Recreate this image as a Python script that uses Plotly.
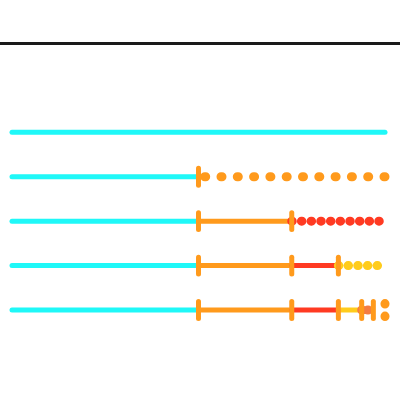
import plotly.graph_objects as go

# pieces of the unit bar, one row per step of the halving
seg_row = [1, 2, 2, 3, 3, 3, 4, 4, 4, 4, 5, 5, 5, 5, 5]
seg_start = [0, 0, 0.5, 0, 0.5, 0.75, 0, 0.5, 0.75, 0.875, 0, 0.5, 0.75, 0.875, 0.9375]
seg_end = [1, 0.5, 1, 0.5, 0.75, 1, 0.5, 0.75, 0.875, 1, 0.5, 0.75, 0.875, 0.9375, 0.96875]

# cut marks
tick_row = [2, 3, 3, 4, 4, 4, 5, 5, 5, 5, 5]
tick_x = [0.5, 0.5, 0.75, 0.5, 0.75, 0.875, 0.5, 0.75, 0.875, 0.9375, 0.96875]

# dotted end mark on the last row
end_row = [5]
end_x = [1]

rule_y = -1

colors = ['#1ff8f8', '#ff9a1c', '#ff3a22', '#ffcc1c', '#f47c42']
tick_color = '#ff9a1c'
dot_dash = {2: '1px,15.3px', 3: '0.5px,9.17px', 4: '0.5px,9.17px', 5: '0.5px,5.5px'}

traces = []
piece = 0
for i in range(len(seg_row)):
    row = seg_row[i]
    if i > 0 and seg_row[i - 1] == row:
        piece += 1
    else:
        piece = 0
    last = (i == len(seg_row) - 1) or seg_row[i + 1] != row
    dotted = last and row > 1
    x_values = [seg_start[i], seg_end[i]]
    if row == 2 and dotted:
        x_values = x_values[::-1]  # dots counted from the right end
    traces.append(go.Scatter(
        x=x_values,
        y=[row, row],
        mode='lines',
        hoverinfo='skip',
        showlegend=False,
        line=dict(color=colors[piece], width=9 if dotted else 5,
                  dash=dot_dash[row] if dotted else 'solid'),
    ))

for r, x in zip(tick_row, tick_x):
    traces.append(go.Scatter(
        x=[x, x],
        y=[r - 0.19, r + 0.19],
        mode='lines',
        hoverinfo='skip',
        showlegend=False,
        line=dict(color=tick_color, width=5),
    ))

for r, x in zip(end_row, end_x):
    traces.append(go.Scatter(
        x=[x, x],
        y=[r - 0.145, r + 0.145],
        mode='lines',
        hoverinfo='skip',
        showlegend=False,
        line=dict(color=tick_color, width=9, dash='0.5px,12px'),
    ))

layout = go.Layout(
    width=400,
    height=400,
    margin=dict(l=0, r=0, t=0, b=0),
    paper_bgcolor='white',
    plot_bgcolor='white',
    xaxis=dict(visible=False, range=[-0.03217, 1.04021]),
    yaxis=dict(visible=False, range=[7.026, -1.979]),
    shapes=[dict(type='line', xref='paper', x0=0, x1=1, yref='y', y0=rule_y, y1=rule_y,
                 line=dict(color='#1a1a1a', width=3))],
)

fig = go.Figure(data=traces, layout=layout)

# round line ends like the original, and no page margin
css = ("var s=document.createElement('style');"
       "s.textContent='body{margin:0;overflow:hidden}.js-line{stroke-linecap:round}';"
       "document.head.appendChild(s);")
fig.write_html("out.html", post_script=css, config={'displayModeBar': False})
